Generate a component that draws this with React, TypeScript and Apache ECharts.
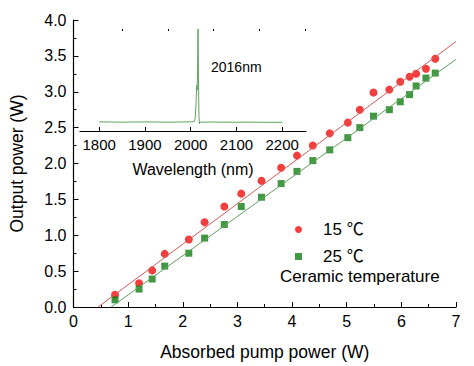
import React, { useEffect, useRef } from "react";
import * as echarts from "echarts";

const absorbedPower = [0.76, 1.2, 1.44, 1.67, 2.11, 2.4, 2.76, 3.07, 3.44, 3.8, 4.09, 4.38, 4.69, 5.02, 5.24, 5.49, 5.78, 5.98, 6.15, 6.27, 6.45, 6.62];
const output15 = [0.17, 0.33, 0.51, 0.74, 0.94, 1.18, 1.4, 1.58, 1.76, 1.94, 2.11, 2.25, 2.42, 2.57, 2.75, 2.99, 3.03, 3.14, 3.21, 3.25, 3.32, 3.46];
const output25 = [0.1, 0.25, 0.39, 0.57, 0.75, 0.96, 1.15, 1.4, 1.53, 1.72, 1.89, 2.04, 2.19, 2.36, 2.5, 2.66, 2.75, 2.86, 2.96, 3.08, 3.19, 3.26];
const fit15X = [0.45, 7.0];
const fit15Y = [0, 3.7];
const fit25X = [0.69, 7.0];
const fit25Y = [0, 3.45];

const wavelength = [1800, 1825, 1850, 1875, 1900, 1925, 1950, 1975, 2000, 2005, 2008, 2010, 2012, 2013, 2014, 2015, 2016, 2017, 2018, 2019, 2020, 2022, 2025, 2050, 2075, 2100, 2125, 2150, 2175, 2200];
const intensity = [0.09, 0.088, 0.087, 0.088, 0.089, 0.088, 0.087, 0.088, 0.09, 0.09, 0.095, 0.13, 0.3, 0.45, 0.4, 0.6, 1.0, 0.5, 0.15, 0.07, 0.085, 0.088, 0.087, 0.088, 0.087, 0.086, 0.087, 0.086, 0.085, 0.086];

const yTicks = ["0.0", "0.5", "1.0", "1.5", "2.0", "2.5", "3.0", "3.5", "4.0"];
const insetMajor = [1800, 1900, 2000, 2100, 2200];
const insetMinor = [1850, 1950, 2050, 2150, 2250];

const FONT = "'Liberation Sans', Arial, 'Noto Sans CJK SC', sans-serif";

export default function App() {
  const ref = useRef<HTMLDivElement>(null);
  useEffect(() => {
    if (!ref.current) return;
    const chart = echarts.init(ref.current, null, { renderer: "svg" });
    const axisLine = { show: true, lineStyle: { color: "#000", width: 1.2 } };
    chart.setOption({
      animation: false,
      backgroundColor: "#fff",
      textStyle: { fontFamily: FONT },
      grid: [
        { left: 71, right: 18, top: 20, bottom: 59 },
        { left: 80, right: 168, top: 29, bottom: 235 },
      ],
      legend: {
        orient: "vertical",
        left: 290,
        top: 216,
        itemWidth: 7,
        itemHeight: 7,
        itemGap: 10,
        data: [
          { name: "15 ℃", icon: "circle" },
          { name: "25 ℃", icon: "rect" },
        ],
        textStyle: { fontSize: 17, lineHeight: 16, color: "#000", fontFamily: FONT, padding: [0, 0, 0, 16] },
      },
      graphic: [
        {
          type: "text",
          left: 280,
          top: 268,
          style: { text: "Ceramic temperature", fontSize: 17, fill: "#000", fontFamily: FONT },
        },
        {
          type: "text",
          left: 211,
          top: 60,
          style: { text: "2016nm", fontSize: 14, fill: "#000", fontFamily: FONT },
        },
      ],
      xAxis: [
        {
          type: "value",
          gridIndex: 0,
          min: 0,
          max: 7,
          interval: 1,
          name: "Absorbed pump power (W)",
          nameLocation: "middle",
          nameGap: 36,
          nameTextStyle: { fontSize: 17.5, color: "#000" },
          axisLine,
          axisTick: { show: true, inside: true, length: 5, lineStyle: { color: "#000" } },
          minorTick: { show: true, splitNumber: 2, length: 3, lineStyle: { color: "#000" } },
          axisLabel: { fontSize: 16, color: "#000", margin: 6 },
          splitLine: { show: false },
        },
        {
          type: "value",
          gridIndex: 1,
          min: 1758,
          max: 2252,
          name: "Wavelength (nm)",
          nameLocation: "middle",
          nameGap: 30,
          nameTextStyle: { fontSize: 16, color: "#000" },
          axisLine,
          axisTick: { show: true, inside: true, length: 4, customValues: insetMajor, lineStyle: { color: "#000" } },
          axisLabel: {
            fontSize: 15,
            color: "#000",
            margin: 6,
            customValues: insetMajor,
            formatter: (v: number) => String(Math.round(v)),
          },
          splitLine: { show: false },
        },
        {
          type: "value",
          gridIndex: 1,
          min: 1758,
          max: 2252,
          axisLine: { show: false },
          axisTick: { show: true, inside: true, length: 2, customValues: insetMinor, lineStyle: { color: "#000" } },
          axisLabel: { show: false },
          splitLine: { show: false },
        },
      ],
      yAxis: [
        {
          type: "value",
          gridIndex: 0,
          min: 0,
          max: 4,
          interval: 0.5,
          name: "Output power (W)",
          nameLocation: "middle",
          nameGap: 48,
          nameTextStyle: { fontSize: 17.5, color: "#000" },
          axisLine,
          axisTick: { show: true, inside: true, length: 5, lineStyle: { color: "#000" } },
          minorTick: { show: true, splitNumber: 2, length: 3, lineStyle: { color: "#000" } },
          axisLabel: {
            fontSize: 16,
            color: "#000",
            margin: 7,
            formatter: (v: number) => yTicks[Math.round(v / 0.5)] ?? v.toFixed(1),
          },
          splitLine: { show: false },
        },
        { type: "value", gridIndex: 1, min: 0, max: 1, show: false },
      ],
      series: [
        {
          type: "line",
          xAxisIndex: 0,
          yAxisIndex: 0,
          data: fit15X.map((x, i) => [x, fit15Y[i]]),
          showSymbol: false,
          lineStyle: { color: "#d45a5a", width: 1 },
          silent: true,
        },
        {
          type: "line",
          xAxisIndex: 0,
          yAxisIndex: 0,
          data: fit25X.map((x, i) => [x, fit25Y[i]]),
          showSymbol: false,
          lineStyle: { color: "#5e9e5e", width: 1 },
          silent: true,
        },
        {
          name: "15 ℃",
          type: "scatter",
          xAxisIndex: 0,
          yAxisIndex: 0,
          symbol: "circle",
          symbolSize: 8,
          itemStyle: { color: "#f20d0d" },
          data: absorbedPower.map((x, i) => [x, output15[i]]),
        },
        {
          name: "25 ℃",
          type: "scatter",
          xAxisIndex: 0,
          yAxisIndex: 0,
          symbol: "rect",
          symbolSize: 7,
          itemStyle: { color: "#137d13" },
          data: absorbedPower.map((x, i) => [x, output25[i]]),
        },
        {
          type: "line",
          xAxisIndex: 1,
          yAxisIndex: 1,
          data: wavelength.map((w, i) => [w, intensity[i]]),
          showSymbol: false,
          lineStyle: { color: "#5aa55a", width: 1 },
          silent: true,
        },
      ],
    });
    return () => chart.dispose();
  }, []);
  return <div ref={ref} style={{ width: 474, height: 366, position: "absolute", left: 0, top: 0 }} />;
}
